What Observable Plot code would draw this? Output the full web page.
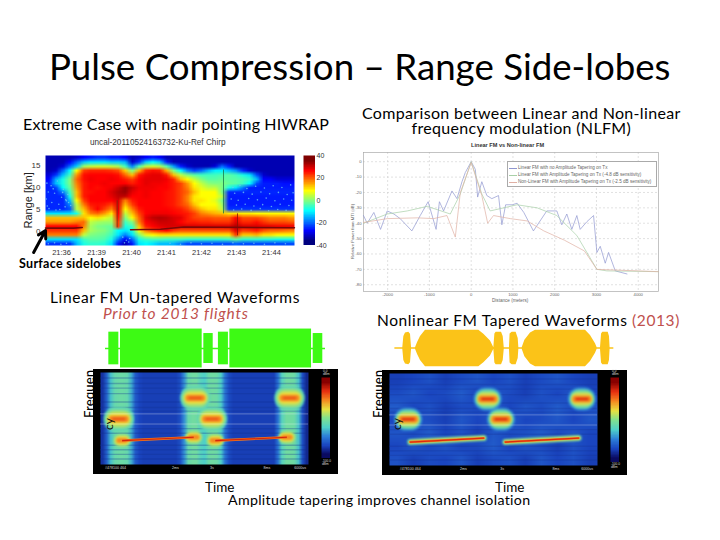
<!DOCTYPE html>
<html>
<head>
<meta charset="utf-8">
<script src="https://cdn.jsdelivr.net/npm/d3@7"></script>
<script src="https://cdn.jsdelivr.net/npm/@observablehq/plot@0.6"></script>
<style>
  html, body { margin: 0; padding: 0; background: #fff; }
  #page { position: relative; width: 720px; height: 540px; overflow: hidden; font-family: Lato, "Open Sans", sans-serif; color: #000; }
  .t { position: absolute; white-space: nowrap; line-height: 1; }
  .soft { filter: blur(0.8px); }
  #legend { position: absolute; left: 507px; top: 161px; width: 148px; height: 24px; border: 1px solid #aaa; background: #fff;
            font: 4.6px "Liberation Sans", sans-serif; color: #666; }
  #legend div { position: absolute; left: 10px; white-space: nowrap; }
  #legend i { position: absolute; left: -9px; top: 3px; width: 8px; height: 1px; }
</style>
</head>
<body>
<div id="page"></div>
<script>
// ---- radar curtain, dB, one row per km from 17 down to -3, 36 columns
const curtainRows = [
  [-36,-36,-36,-36,-34,-30,-28,-26,-26,-28,-28,-30,-36,-34,-30,-28,-30,-36,-36,-36,-36,-36,-36,-36,-36,-36,-36,-36,-36,-36,-36,-36,-36,-36,-36,-36],
  [-36,-36,-36,-30,-22,-15,-12,-12,-12,-14,-14,-16,-34,-26,-14,-10,-14,-28,-36,-36,-36,-36,-36,-36,-36,-36,-36,-36,-36,-36,-36,-36,-36,-36,-36,-36],
  [-36,-36,-33,-22,-14,2,5,6,6,5,3,-5,-20,-4,4,6,4,-4,-18,-28,-34,-36,-36,-36,-33,-22,-28,-36,-36,-36,-36,-36,-36,-36,-36,-36],
  [-36,-34,-22,-10,10,25,27,27,27,26,24,14,0,16,27,29,28,16,0,-10,-20,-25,-22,-16,-11,-11,-15,-19,-27,-34,-36,-36,-36,-36,-36,-36],
  [-33,-26,-15,-5,18,29,30,30,30,30,29,22,15,28,31,32,32,28,15,5,0,-3,-5,-5,-5,-4,-3,-5,-8,-12,-24,-34,-36,-36,-36,-36],
  [-30,-16,-8,0,22,29,31,30,30,31,30,28,25,30,32,32,32,31,27,15,10,5,0,-3,-3,-2,-3,-3,-4,-6,-15,-30,-30,-33,-33,-33],
  [-28,-15,-8,0,20,28,30,30,31,30,30,30,28,30,32,31,31,30,28,25,18,10,5,1,0,0,-2,-3,-5,-10,-24,-28,-28,-28,-29,-29],
  [-28,-25,-10,-2,18,28,30,29,30,31,34,38,34,31,31,31,30,30,28,25,20,12,8,5,5,0,-8,-12,-20,-28,-28,-28,-28,-28,-28,-28],
  [-27,-27,-20,-5,15,28,29,30,30,33,36,38,32,30,31,30,30,29,28,25,22,15,10,10,10,0,-27,-27,-27,-27,-27,-27,-27,-27,-27,-27],
  [-27,-27,-27,-8,15,28,30,30,30,32,35,35,30,30,31,30,30,29,28,25,20,12,10,10,10,5,-28,-28,-28,-28,-28,-28,-28,-28,-28,-28],
  [-27,-27,-27,-15,10,25,30,30,30,30,33,20,28,30,30,30,30,29,28,25,20,12,12,10,8,0,-28,-28,-28,-28,-28,-28,-28,-28,-28,-28],
  [-27,-27,-27,-20,5,20,28,29,28,25,32,15,25,30,30,30,30,29,28,25,22,15,10,10,10,3,-28,-28,-28,-28,-28,-28,-28,-28,-28,-28],
  [-27,-27,-27,-24,5,15,25,30,25,20,32,10,20,28,30,30,30,30,29,28,25,20,15,12,12,5,-26,-26,-26,-26,-26,-26,-26,-26,-26,-26],
  [-12,-12,-12,-12,-8,12,20,22,18,12,30,5,15,25,30,31,31,31,30,29,28,25,20,18,16,15,12,12,11,11,10,10,10,10,10,10],
  [15,15,15,15,15,15,10,12,8,5,28,0,10,22,32,35,36,35,33,32,28,25,24,24,23,23,23,30,24,24,24,22,20,20,20,18],
  [18,18,18,18,20,22,5,3,2,2,25,-5,0,20,30,32,34,34,33,30,28,28,27,27,26,26,26,32,27,27,29,26,24,24,24,23],
  [30,30,30,30,30,20,3,0,-1,-2,25,-8,-5,15,28,30,32,33,33,33,33,33,33,33,33,33,33,36,33,33,33,32,32,31,31,31],
  [26,26,26,26,26,15,3,1,0,-3,-10,-12,-8,10,20,25,28,30,26,24,24,24,24,24,24,24,24,32,25,26,28,24,22,22,21,20],
  [20,20,20,20,20,5,0,-1,-2,-5,-12,-20,-12,0,8,10,12,12,12,12,12,12,12,12,12,12,12,25,14,14,16,12,12,10,10,10],
  [-12,-12,-12,-12,-12,-5,-3,-3,-4,-8,-20,-30,-22,-8,-5,-4,-4,-5,-5,-5,-6,-6,-6,-6,-6,-6,-5,-2,-6,-6,-6,-7,-7,-8,-8,-8],
  [-26,-26,-26,-26,-15,-8,-6,-6,-7,-12,-28,-36,-28,-12,-10,-12,-15,-15,-16,-20,-24,-24,-24,-24,-24,-24,-24,-22,-24,-24,-24,-24,-24,-24,-24,-24]
];
const curtainTicks = [0, 1, 2, 3, 4, 5, 6];
const curtainTickLabels = ["21:36", "21:39", "21:40", "21:41", "21:42", "21:43", "21:44"];
const rangeTicks = [0, 5, 10, 15];
const streakTime = [4.63, 1.59, 5.03];
const streakLow = [4, 0.8, -1];
const streakHigh = [14, 7, 4];
const streakColor = ["#1a7a4a", "#7a2a10", "#8a1000"];
const surfaceTime = [-0.46, 0.34, 0.59];
const surfaceRange = [0.76, 0.76, 0.9];
const surfaceTime2 = [1.97, 2.83, 3.49, 6.66];
const surfaceRange2 = [0.4, 0.5, 1.0, 0.85];
const speckleTime = [-0.42,-0.3,-0.12,0.05,0.18,-0.38,-0.2,0,0.14,-0.44,-0.28,-0.08,0.1,0.26,-0.36,-0.16,0.03,0.2,-0.41,-0.24,-0.05,0.12,
  4.9,5.1,5.3,5.55,5.8,6.05,6.3,6.55,4.95,5.2,5.45,5.7,5.95,6.2,6.45,6.62,4.85,5.05,5.35,5.6,5.85,6.1,6.35,6.58,5.0,5.25,5.5,5.75,6.0,6.25,6.5,4.92,5.15,5.42,5.68,5.92,6.18,6.42,
  -0.38,-0.2,-0.02,0.14,3.1,3.4,3.7,4.0,4.3,4.6,4.9,5.2,5.5,5.8,6.1,6.4,1.75,1.85,1.95,1.8,1.92];
const speckleRange = [11,10.4,11.5,9.6,8.4,9,8.7,7.8,7,7.4,6.6,6.2,5.6,5.9,5.2,4.9,8.9,6.6,5.8,9.7,5,7.2,
  10,10.5,9.8,10.3,9.9,10.4,10,10.6,8.7,8.9,8.5,9,8.6,8.9,8.4,8.8,7.4,7.1,7.5,7.2,7.6,7,7.4,7.1,6,6.2,5.8,6.1,5.7,6.2,5.9,4.9,5.1,4.8,5.2,4.7,5,4.8,
  -2.8,-2.6,-2.9,-2.7,-2.7,-2.9,-2.6,-2.8,-2.7,-2.9,-2.6,-2.8,-2.7,-2.9,-2.6,-2.8,-1.3,-2,-1.6,-2.6,-2.4];
const dbLevels = [40, 30, 20, 10, 0, -10, -20, -30, -40];
const dbTicks = [40, 20, 0, -20, -40];
const jetColors = ["#00007f", "#0000ff", "#0080ff", "#00ffff", "#80ff80", "#ffff00", "#ff8000", "#ff0000", "#7f0000"];
const jetDomain = [-40, -30, -20, -10, 0, 10, 20, 30, 40];

// ---- side lobe comparison: distance in meters, power in dB
const blueX = [-2578,-2490,-2330,-2170,-2010,-1850,-1700,-1420,-1220,-1030,-840,-760,-660,-460,-340,-220,-140,0,100,155,255,375,495,655,735,825,985,1100,1260,1490,1810,2050,2170,2290,2410,2530,2610,2770,2930,3010,3090,3210,3290,3450,3730];
const blueY = [-35,-40,-33,-44,-32,-34,-37,-45,-35,-26,-44,-26,-32,-19,-24,-13,-7,0,-5,-23,-13,-22,-24,-22,-41,-28,-28,-27,-33,-45,-32,-32,-41,-34,-44,-35,-44,-39,-35,-59,-55,-66,-59,-71,-73];
const greenX = [-2578,-2010,-1530,-1050,-500,-260,0,255,455,1100,1580,2050,2530,3010,3250,4485];
const greenY = [-40,-34,-32,-29,-34,-21,0,-21,-32,-28,-30,-35,-48,-70,-71,-71.5];
const redX = [-2578,-2010,-1290,-900,-580,-380,-260,0,255,395,535,935,1340,1740,2230,2710,3010,4485];
const redY = [-39.5,-37,-36.5,-37,-35,-49,-20,-0.5,-22,-40,-35,-37,-38.5,-45,-51,-58,-70,-71.5];
const distanceTicks = [-2000, -1000, 0, 1000, 2000, 3000, 4000];
const powerTicks = [0, -10, -20, -30, -40, -50, -60, -70, -80];
const legendLabels = ["Linear FM with no Amplitude Tapering on Tx", "Linear FM with Amplitude Tapering on Tx (-4.8 dB sensitivity)", "Non-Linear FM with Amplitude Tapering on Tx (-2.5 dB sensitivity)"];
const lineColors = ["#8f96d0", "#a8d0a8", "#e0b0a4"];

// ---- green transmit waveform, microseconds and relative amplitude
const greenStart = [0.4, 0.96, 4.96, 5.66, 6.21, 10.21];
const greenEnd = [0.88, 4.88, 5.41, 6.14, 10.13, 10.67];
const greenAmp = [0.84, 1, 0.77, 0.84, 1, 0.77];
const greenStem = [0.24, 10.8];

// ---- orange transmit waveform envelope
const orangeTime = [0.45,0.83,0.88,0.96,1.12,1.2,1.25,1.44,1.54,1.68,1.92,4.48,4.72,5.04,5.2,5.25,5.31,5.57,5.65,5.7,5.95,5.98,6.08,6.27,6.37,6.4,6.56,6.69,6.96,7.2,9.6,9.84,10.08,10.16,10.32,10.37,10.43,10.69,10.75,10.78,10.96];
const orangeAmp = [0.04,0.04,0.62,0.8,0.84,0.73,0.04,0.04,0.31,0.62,0.94,0.94,0.73,0.38,0.04,0.75,0.84,0.84,0.62,0.04,0.04,0.75,0.84,0.84,0.52,0.04,0.04,0.42,0.8,0.94,0.94,0.67,0.25,0.04,0.04,0.75,0.84,0.84,0.62,0.04,0.04];

// ---- spectrograms: time 0..10, frequency 0..10
const bandProfile = [-33,-25,-12,-5,-4,-4,-5,-14,-26,-30,-31,-31,-31,-31,-31,-31,-31,-31,-31,-28,-18,-5,-3,-3,-8,-10,-4,-3,-4,-10,-22,-29,-31,-31,-31,-31,-31,-31,-31,-31,-31,-31,-31,-22,-8,-3,-3,-4,-12,-28,-35];
const leftToneTime = [0.88, 4.56, 5.36, 9.09];
const leftToneFreq = [4.95, 7.22, 4.95, 7.22];
const leftChirpT1 = [1.04, 5.52];
const leftChirpT2 = [4.48, 8.96];
const leftChirpF1 = [2.6, 2.6];
const leftChirpF2 = [2.96, 2.96];
const rightToneTime = [0.9, 4.72, 5.36, 9.25];
const rightToneFreq = [5.02, 7.24, 5.02, 7.24];
const rightChirpT1 = [1.0, 5.57];
const rightChirpT2 = [4.53, 9.09];
const rightChirpF1 = [2.55, 2.55];
const rightChirpF2 = [2.98, 2.98];
const isolationLines = [5.5, 4.4];
const streakFreq = [9.4, 8.8, 8.3, 7.7, 6.8, 6.2, 5.8, 3.9, 3.4, 2.1, 1.6, 1.1, 0.6];
const rightFloor = [
  -31,-30,-28,-31,-29,-27,-30,-28,-31,-29,-27,-30,-31,
  -29,-27,-30,-29,-26,-30,-27,-29,-31,-28,-30,-27,-30,
  -26,-30,-28,-31,-29,-29,-27,-30,-27,-29,-26,-29,-28,
  -30,-27,-29,-31,-27,-30,-28,-26,-30,-29,-27,-30,-27,
  -27,-29,-26,-30,-28,-31,-27,-29,-28,-26,-29,-27,-30,
  -30,-27,-29,-27,-30,-29,-26,-30,-27,-29,-31,-28,-30,
  -28,-31,-29,-30,-27,-31,-29,-28,-31,-27,-30,-28,-31
];
const leftFreqLabels = ["#478100 464", "2ms", "3s", "8ms", "6000us"];
const leftTimeTicks = [0.72, 3.6, 5.36, 8, 9.6];
const rightTimeTicks = [1, 3.55, 5.41, 8, 9.5];
const spectroColors = ["#0a0a60", "#1a45c0", "#2d7fd8", "#4fd0c8", "#7fe090", "#e8e040", "#f58a20", "#e83010", "#880000"];

const page = document.getElementById("page");

function place(plot, left, top) {
  plot.style.position = "absolute";
  plot.style.left = left + "px";
  plot.style.top = top + "px";
  page.appendChild(plot);
}

function label(text, left, top, size, extra) {
  const el = document.createElement("div");
  el.className = "t";
  el.style.cssText = `left:${left}px;top:${top}px;font-size:${size}px;${extra || ""}`;
  el.innerHTML = text;
  page.appendChild(el);
  return el;
}

function colorBar(w, h, opts) {
  return Plot.plot({
    width: w, height: h, margin: 0,
    x: {domain: [0, 1], axis: null},
    y: {domain: [-40, 40], axis: null},
    ...opts,
    marks: [Plot.raster(dbLevels, {width: 1, height: dbLevels.length, x1: 0, x2: 1, y1: 40, y2: -40})]
  });
}

// each level of a tone is a round capped stroke, wide and cold outside, thin and hot inside
function toneLevels(times, freqs, levels) {
  const rows = [];
  for (const l of levels) times.forEach((t, i) => rows.push({t, f: freqs[i], v: l[0], w: l[1], half: l[2]}));
  return rows;
}

function chirpLevels(t1, t2, f1, f2, levels) {
  const rows = [];
  for (const l of levels) t1.forEach((t, i) => rows.push({t1: t, t2: t2[i], f1: f1[i], f2: f2[i], v: l[0], w: l[1]}));
  return rows;
}

// title and headings come first so the waveform panels can sit over the text
label("Pulse Compression – Range Side-lobes", 49, 48, 36.7);
label("Extreme Case with nadir pointing HIWRAP", 23, 116, 16, "letter-spacing:.15px");
label("Comparison between Linear and Non-linear<br>frequency modulation (NLFM)", 362, 105, 16, "text-align:center;line-height:15px;letter-spacing:.33px");
label("uncal-20110524163732-Ku-Ref Chirp", 90, 139, 8.2, "font-family:'Liberation Sans';color:#333");
label("Linear FM Un-tapered Waveforms", 50, 290, 15.5, "letter-spacing:.6px");
label("Prior to 2013 flights", 103, 306, 15.5, "font-style:italic;color:#c0504d;letter-spacing:.75px");
label('Nonlinear FM Tapered Waveforms <span style="color:#c0504d">(2013)</span>', 377, 313, 15.5, "letter-spacing:.6px");

// radar curtain
const curtainColor = {type: "linear", domain: jetDomain, range: jetColors};
place(Plot.plot({
  width: 285, height: 112,
  marginLeft: 30, marginRight: 6, marginTop: 5, marginBottom: 17,
  x: {domain: [-0.46, 6.66], axis: null},
  y: {domain: [-3.2, 17.3], axis: null},
  color: curtainColor,
  style: {background: "transparent", overflow: "visible"},
  marks: [
    Plot.raster(curtainRows.flat(), {width: 36, height: 21, x1: -0.46, x2: 6.66, y1: 17.3, y2: -3.2}),
    Plot.dot(speckleTime, {x: d => d, y: (d, i) => speckleRange[i], r: 0.8, fill: "#6cc4f4", fillOpacity: 0.8}),
    Plot.ruleX(streakTime, {y1: (d, i) => streakLow[i], y2: (d, i) => streakHigh[i], stroke: (d, i) => streakColor[i], strokeWidth: 0.8}),
    Plot.line(surfaceTime, {x: d => d, y: (d, i) => surfaceRange[i], stroke: "#7a0808", strokeWidth: 1.6}),
    Plot.line(surfaceTime2, {x: d => d, y: (d, i) => surfaceRange2[i], stroke: "#7a0808", strokeWidth: 1.4}),
    Plot.axisX({ticks: curtainTicks, tickFormat: (d, i) => curtainTickLabels[i], tickSize: 0, tickPadding: 4, fontSize: 7.5, fontFamily: "Liberation Sans", color: "#333", label: null}),
    Plot.axisY({ticks: rangeTicks, tickSize: 0, tickPadding: 5, fontSize: 8, fontFamily: "Liberation Sans", color: "#333", label: null}),
    Plot.arrow([0], {x1: -0.8, y1: -4.8, x2: -0.46, y2: 0.2, stroke: "#000", strokeWidth: 3, headLength: 9, bend: 0})
  ]
}), 15, 150);
place(colorBar(12, 90, {color: curtainColor}), 303, 155);
place(Plot.plot({
  width: 16, height: 100, margin: 0, marginTop: 5, marginBottom: 5,
  x: {axis: null, domain: [0, 1]},
  y: {domain: [-40, 40], axis: null},
  style: {background: "transparent"},
  marks: [Plot.text(dbTicks, {x: 0, y: d => d, text: d => String(d), textAnchor: "start", fontSize: 7, fontFamily: "Liberation Sans", fill: "#333"})]
}), 316, 150);
label("Range [km]", 0, 195, 11, "font-family:'Liberation Sans';transform:rotate(-90deg);transform-origin:center;width:56px;text-align:center;color:#222");
label("Surface sidelobes", 19, 258, 12.5, "font-weight:700;letter-spacing:.3px");

// side lobe comparison
place(Plot.plot({
  width: 318, height: 165,
  marginLeft: 13, marginRight: 10, marginTop: 12, marginBottom: 14,
  x: {domain: [-2578, 4485], axis: null},
  y: {domain: [-84.4, 6], axis: null},
  style: {background: "transparent"},
  marks: [
    Plot.ruleX(distanceTicks, {stroke: "#ccc", strokeDasharray: "2,2", strokeWidth: 0.6}),
    Plot.ruleY(powerTicks, {stroke: "#ccc", strokeDasharray: "2,2", strokeWidth: 0.6}),
    Plot.frame({stroke: "#aaa", strokeWidth: 0.7}),
    Plot.line(blueX, {x: d => d, y: (d, i) => blueY[i], stroke: lineColors[0], strokeWidth: 0.7}),
    Plot.line(greenX, {x: d => d, y: (d, i) => greenY[i], stroke: lineColors[1], strokeWidth: 0.7}),
    Plot.line(redX, {x: d => d, y: (d, i) => redY[i], stroke: lineColors[2], strokeWidth: 0.7}),
    Plot.axisX({ticks: distanceTicks, tickSize: 0, tickPadding: 2, fontSize: 4.2, fontFamily: "Liberation Sans", color: "#666", label: null, tickFormat: d => String(d)}),
    Plot.axisY({ticks: powerTicks, tickSize: 0, tickPadding: 2, fontSize: 4.2, fontFamily: "Liberation Sans", color: "#666", label: null, tickFormat: d => String(d)})
  ]
}), 350, 140);
label("Linear FM vs Non-linear FM", 471, 143, 5.6, "font-family:'Liberation Sans';font-weight:700;color:#333");
label("Distance (meters)", 492, 298.5, 4.6, "font-family:'Liberation Sans';color:#666");
label("Relative Power from MTI (dB)", 313, 217, 4.2, "font-family:'Liberation Sans';color:#666;transform:rotate(-90deg);width:80px");
const legend = document.createElement("div");
legend.id = "legend";
legend.innerHTML = legendLabels.map((t, i) => `<div style="top:${3 + i * 7}px"><i style="background:${lineColors[i]}"></i>${t}</div>`).join("");
page.appendChild(legend);

// green waveform
place(Plot.plot({
  width: 240, height: 42, margin: 0,
  x: {domain: [0, 11.52], axis: null},
  y: {domain: [-1.08, 1.08], axis: null},
  marks: [
    Plot.ruleY([0], {x1: greenStem[0], x2: greenStem[1], stroke: "#3dfa14", strokeWidth: 1.5}),
    Plot.rect(greenStart, {x1: d => d, x2: (d, i) => greenEnd[i], y1: (d, i) => -greenAmp[i], y2: (d, i) => greenAmp[i], fill: "#3dfa14"})
  ]
}), 100, 327);

// orange waveform
place(Plot.plot({
  width: 240, height: 42, margin: 0,
  x: {domain: [0, 11.52], axis: null},
  y: {domain: [-1.08, 1.08], axis: null},
  marks: [
    Plot.areaY(orangeTime, {x: d => d, y1: (d, i) => -orangeAmp[i], y2: (d, i) => orangeAmp[i], fill: "#fbc318"})
  ]
}), 385, 327);

const spectroColor = {type: "linear", domain: jetDomain, range: spectroColors};

// spectrogram with vertical bands
const leftTones = [[-6, 24, 0.15], [3, 18, 0.2], [10, 12, 0.26], [20, 6.5, 0.32], [26, 2.5, 0.26]];
const chirpEnds = [[3, 12, 0.12], [10, 9, 0.12], [20, 5, 0.16]];
place(Plot.plot({
  width: 245, height: 105,
  marginLeft: 7, marginRight: 30, marginTop: 3, marginBottom: 10,
  x: {domain: [0, 10], axis: null},
  y: {domain: [0, 10], axis: null},
  color: spectroColor,
  style: {background: "#000", overflow: "hidden"},
  marks: [
    Plot.raster(bandProfile, {width: bandProfile.length, height: 1, x1: 0, x2: 10, y1: 10, y2: 0}),
    Plot.ruleY(streakFreq, {x1: 0, x2: 10, stroke: "#12308f", strokeOpacity: 0.3, strokeWidth: 1.4}),
    Plot.link(toneLevels(leftToneTime, leftToneFreq, leftTones), {
      x1: d => d.t - d.half, x2: d => d.t + d.half, y1: "f", y2: "f",
      stroke: "v", strokeWidth: "w", strokeLinecap: "round", className: "soft"}),
    Plot.link(toneLevels(leftChirpT1.concat(leftChirpT2), leftChirpF1.concat(leftChirpF2), chirpEnds), {
      x1: d => d.t - d.half, x2: d => d.t + d.half, y1: "f", y2: "f",
      stroke: "v", strokeWidth: "w", strokeLinecap: "round", className: "soft"}),
    Plot.link(chirpLevels(leftChirpT1, leftChirpT2, leftChirpF1, leftChirpF2, [[22, 2.6], [32, 1.2]]), {
      x1: "t1", x2: "t2", y1: "f1", y2: "f2", stroke: "v", strokeWidth: "w"}),
    Plot.ruleY(isolationLines, {x1: 0, x2: 10, stroke: "#fff", strokeOpacity: 0.45, strokeWidth: 0.7}),
    Plot.axisX({ticks: leftTimeTicks, tickFormat: (d, i) => leftFreqLabels[i], tickSize: 0, tickPadding: 2, fontSize: 3.6, fontFamily: "Liberation Sans", color: "#ddd", label: null})
  ]
}), 93, 369);
place(colorBar(9, 81, {color: spectroColor}), 321, 377);
label("0.0<br>dBm", 323, 370, 3.2, "color:#ddd;font-family:'Liberation Sans'");
label("-100.0<br>dBm", 322, 460, 3.2, "color:#ddd;font-family:'Liberation Sans'");

// spectrogram with isolated tones
const rightTones = [[-18, 23, 0.12], [-4, 19, 0.14], [8, 13, 0.22], [20, 7, 0.3], [31, 2.5, 0.26]];
place(Plot.plot({
  width: 245, height: 105,
  marginLeft: 7, marginRight: 30, marginTop: 3, marginBottom: 10,
  x: {domain: [0, 10], axis: null},
  y: {domain: [0, 10], axis: null},
  color: spectroColor,
  style: {background: "#000", overflow: "hidden"},
  marks: [
    Plot.raster(rightFloor, {width: 13, height: 7, x1: 0, x2: 10, y1: 10, y2: 0}),
    Plot.ruleY(streakFreq, {x1: 0, x2: 10, stroke: "#12308f", strokeOpacity: 0.25, strokeWidth: 1.4}),
    Plot.link(toneLevels(rightToneTime, rightToneFreq, rightTones), {
      x1: d => d.t - d.half, x2: d => d.t + d.half, y1: "f", y2: "f",
      stroke: "v", strokeWidth: "w", strokeLinecap: "round", className: "soft"}),
    Plot.link(chirpLevels(rightChirpT1, rightChirpT2, rightChirpF1, rightChirpF2, [[-6, 6], [8, 4]]), {
      x1: "t1", x2: "t2", y1: "f1", y2: "f2", stroke: "v", strokeWidth: "w", strokeLinecap: "round", className: "soft"}),
    Plot.link(chirpLevels(rightChirpT1, rightChirpT2, rightChirpF1, rightChirpF2, [[22, 2.4], [31, 1.3]]), {
      x1: "t1", x2: "t2", y1: "f1", y2: "f2", stroke: "v", strokeWidth: "w", strokeLinecap: "round"}),
    Plot.ruleY(isolationLines, {x1: 0, x2: 10, stroke: "#fff", strokeOpacity: 0.4, strokeWidth: 0.7}),
    Plot.axisX({ticks: rightTimeTicks, tickFormat: (d, i) => leftFreqLabels[i], tickSize: 0, tickPadding: 2, fontSize: 3.6, fontFamily: "Liberation Sans", color: "#ddd", label: null})
  ]
}), 382, 370);
place(colorBar(9, 85, {color: spectroColor}), 610, 377);
label("0.0<br>dBm", 612, 370, 3.2, "color:#ddd;font-family:'Liberation Sans'");
label("-100.0<br>dBm", 611, 463, 3.2, "color:#ddd;font-family:'Liberation Sans'");

// rotated axis words and the text under the spectrograms
const rot = "transform:rotate(-90deg);transform-origin:left top;";
label("Frequen", 83, 418, 13, rot + "font-weight:500;letter-spacing:.2px");
label("cy", 103, 430, 12, rot + "color:#111");
label("Frequen", 372, 418, 13, rot + "font-weight:500;letter-spacing:.2px");
label("cy", 391, 430, 12, rot + "color:#111");
label("Time", 205, 481, 13.5);
label("Time", 495, 481, 13.5);
label("Amplitude tapering improves channel isolation", 228, 493, 14.2, "letter-spacing:.33px");
</script>
</body>
</html>
